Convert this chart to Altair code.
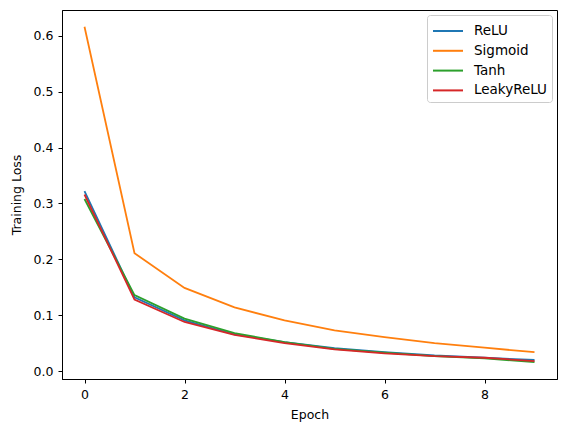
import pandas as pd
import altair as alt

# ── data ────────────────────────────────────────────────────────────────────
epochs = list(range(10))
relu = [0.322, 0.132, 0.091, 0.066, 0.052, 0.041, 0.034, 0.028, 0.024, 0.020]
sigmoid = [0.616, 0.211, 0.149, 0.114, 0.091, 0.073, 0.061, 0.050, 0.042, 0.034]
tanh = [0.308, 0.136, 0.094, 0.068, 0.052, 0.040, 0.033, 0.027, 0.023, 0.016]
leaky = [0.316, 0.128, 0.088, 0.065, 0.050, 0.039, 0.032, 0.027, 0.024, 0.018]

series_names = ["ReLU", "Sigmoid", "Tanh", "LeakyReLU"]
series_colors = ["#1f77b4", "#ff7f0e", "#2ca02c", "#d62728"]

rows = []
for name, vals in zip(series_names, [relu, sigmoid, tanh, leaky]):
    for e, v in zip(epochs, vals):
        rows.append({"Epoch": e, "Loss": v, "Activation": name})
df = pd.DataFrame(rows)

FONT = "DejaVu Sans"

chart = (
    alt.Chart(df)
    .mark_line(strokeWidth=1.8)
    .encode(
        x=alt.X(
            "Epoch:Q",
            title="Epoch",
            scale=alt.Scale(domain=[-0.45, 9.45], nice=False, zero=False),
            axis=alt.Axis(values=[0, 2, 4, 6, 8], format="d", grid=False, titlePadding=8),
        ),
        y=alt.Y(
            "Loss:Q",
            title="Training Loss",
            scale=alt.Scale(domain=[-0.014, 0.646], nice=False, zero=False),
            axis=alt.Axis(values=[0, 0.1, 0.2, 0.3, 0.4, 0.5, 0.6], format=".1f", grid=False, titlePadding=10),
        ),
        color=alt.Color(
            "Activation:N",
            scale=alt.Scale(domain=series_names, range=series_colors),
            sort=series_names,
            legend=alt.Legend(
                title=None,
                orient="top-right",
                symbolType="M-1,0L2,0",
                symbolStrokeWidth=2,
                symbolSize=400,
                labelFontSize=13.5,
                labelFont=FONT,
                labelColor="black",
                labelOffset=20,
                fillColor="white",
                strokeColor="#cccccc",
                cornerRadius=3,
                padding=5,
                rowPadding=1.8,
                offset=5,
            ),
        ),
        order=alt.Order("Epoch:Q"),
    )
    .properties(width=495, height=369, padding={"left": 2, "top": 2, "right": 1, "bottom": 2})
    .configure_view(stroke="black", strokeWidth=1)
    .configure_axis(
        domainColor="black",
        tickColor="black",
        tickSize=4,
        labelPadding=5,
        labelFont=FONT,
        labelFontSize=12.5,
        labelColor="black",
        titleFont=FONT,
        titleFontSize=12.5,
        titleFontWeight="normal",
        titleColor="black",
    )
)

chart.save("out.html", embed_options={"renderer": "svg", "actions": False})
